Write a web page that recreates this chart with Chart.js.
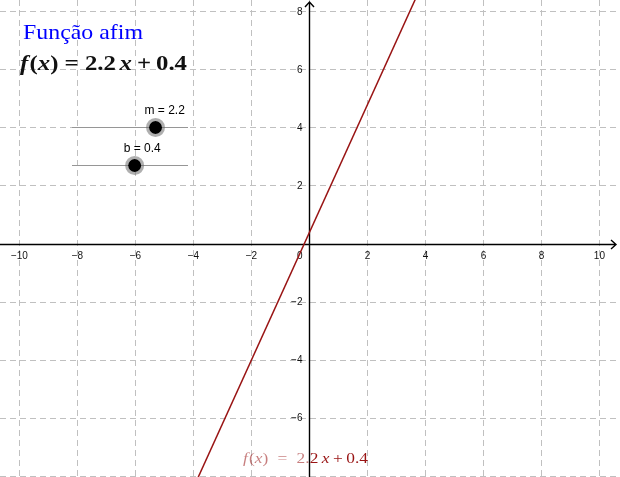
<!DOCTYPE html>
<html>
<head>
<meta charset="utf-8">
<script src="https://cdn.jsdelivr.net/npm/chart.js@4"></script>
<style>
  html, body { margin: 0; padding: 0; background: #fff; }
  #wrap { width: 620px; height: 477px; }
</style>
</head>
<body>
<div id="wrap"><canvas id="graph" width="620" height="477"></canvas></div>
<script>
// f(x) = m x + b  (slider values)
const m = 2.2;
const b = 0.4;
const sliderMin = -5;
const sliderMax = 5;

// two points of the line
const lineX = [-4, 4];
const lineY = [-8.4, 9.2];

// grid lines and axis labels
const xGrid = [-10, -8, -6, -4, -2, 0, 2, 4, 6, 8, 10];
const yGrid = [-8, -6, -4, -2, 0, 2, 4, 6, 8];
const xTicks = [-10, -8, -6, -4, -2, 2, 4, 6, 8, 10];
const yTicks = [-6, -4, -2, 2, 4, 6, 8];

// visible window
const xMin = -10.67, xMax = 10.71;
const yMin = -8.03, yMax = 8.41;

const lineColor = 'rgb(153, 20, 20)';
const gridColor = 'rgb(192, 192, 192)';
const serif = '"Liberation Serif", "Times New Roman", serif';
const sans = '"Liberation Sans", Arial, sans-serif';

const fmt = v => (v < 0 ? '\u2212' + (-v) : '' + v);

// draws text runs one after another, squeezed to a given width
drawRuns = (ctx, x, y, runs, width) => {
    let total = 0;
    runs.forEach(r => { ctx.font = r[1]; total += ctx.measureText(r[0]).width + (r[3] || 0); });
    ctx.save();
    ctx.translate(x, y);
    ctx.scale(width / total, 1);
    ctx.textBaseline = 'alphabetic';
    ctx.textAlign = 'left';
    let cx = 0;
    runs.forEach(r => {
        ctx.font = r[1];
        ctx.fillStyle = r[2];
        ctx.fillText(r[0], cx, 0);
        cx += ctx.measureText(r[0]).width + (r[3] || 0);
    });
    ctx.restore();
};

const axesPlugin = {
    id: 'ggbAxes',
    beforeDatasetsDraw(chart) {
        const { ctx, chartArea: a, scales: { x, y } } = chart;
        const x0 = Math.round(x.getPixelForValue(0)) + 0.5;
        const y0 = Math.round(y.getPixelForValue(0)) + 0.5;
        ctx.save();
        ctx.strokeStyle = '#000';
        ctx.lineWidth = 1.4;
        ctx.beginPath();
        ctx.moveTo(a.left, y0); ctx.lineTo(a.right - 4, y0);
        ctx.moveTo(a.right - 9, y0 - 4.5); ctx.lineTo(a.right - 4, y0); ctx.lineTo(a.right - 9, y0 + 4.5);
        ctx.moveTo(x0, a.bottom); ctx.lineTo(x0, a.top + 2);
        ctx.moveTo(x0 - 4.5, a.top + 7); ctx.lineTo(x0, a.top + 2); ctx.lineTo(x0 + 4.5, a.top + 7);
        ctx.stroke();

        ctx.fillStyle = '#111';
        ctx.font = '10px ' + sans;
        ctx.textBaseline = 'alphabetic';
        ctx.textAlign = 'center';
        xTicks.forEach(v => ctx.fillText(fmt(v), x.getPixelForValue(v), y0 + 14.5));
        ctx.textAlign = 'right';
        ctx.textBaseline = 'middle';
        yTicks.forEach(v => ctx.fillText(fmt(v), x0 - 7, y.getPixelForValue(v)));
        ctx.textBaseline = 'alphabetic';
        ctx.fillText('0', x0 - 7, y0 + 14.5);
        ctx.restore();
    },
    afterDraw(chart) {
        const { ctx, scales: { x } } = chart;
        const x0 = x.getPixelForValue(0);

        // title and formula
        drawRuns(ctx, 23, 39, [['Função afim', '22px ' + serif, '#0000ff']], 120);
        const bi = 'italic bold 20px ' + serif, bo = 'bold 20px ' + serif, k = '#111';
        drawRuns(ctx, 20, 70, [
            ['f', bi, k, 1], ['(', bo, k], ['x', bi, k], [')', bo, k, 5], ['=', bo, k, 5],
            ['2.2', bo, k, 3], ['x', bi, k, 4], ['+', bo, k, 4], ['0.4', bo, k]
        ], 167);

        // label of the function, paler left of the y axis
        const it = 'italic 15px ' + serif, up = '15px ' + serif;
        const label = c => [
            ['f', it, c, 1], ['(', up, c], ['x', it, c], [')', up, c, 8], ['=', up, c, 8],
            ['2.2', up, c, 3], ['x', it, c, 3], ['+', up, c, 3], ['0.4', up, c]
        ];
        ctx.save();
        ctx.beginPath(); ctx.rect(0, 0, x0, chart.height); ctx.clip();
        drawRuns(ctx, 243, 463, label('rgba(153, 20, 20, 0.55)'), 125);
        ctx.restore();
        ctx.save();
        ctx.beginPath(); ctx.rect(x0, 0, chart.width - x0, chart.height); ctx.clip();
        drawRuns(ctx, 243, 463, label(lineColor), 125);
        ctx.restore();

        // sliders
        const sliders = [['m', m, 127.5], ['b', b, 165.5]];
        const sl = 72, len = 116;
        sliders.forEach(s => {
            const kx = sl + (s[1] - sliderMin) / (sliderMax - sliderMin) * len;
            ctx.save();
            ctx.strokeStyle = 'rgb(150, 150, 150)';
            ctx.lineWidth = 1;
            ctx.beginPath(); ctx.moveTo(sl, s[2]); ctx.lineTo(sl + len, s[2]); ctx.stroke();
            ctx.beginPath(); ctx.arc(kx, s[2], 8, 0, Math.PI * 2);
            ctx.strokeStyle = 'rgba(110, 110, 110, 0.55)';
            ctx.lineWidth = 3; ctx.stroke();
            ctx.beginPath(); ctx.arc(kx, s[2], 6.5, 0, Math.PI * 2);
            ctx.fillStyle = '#000'; ctx.fill();
            ctx.font = '12px ' + sans;
            ctx.fillStyle = '#000';
            ctx.textAlign = 'left';
            ctx.fillText(s[0] + ' = ' + s[1], kx - 11, s[2] - 14);
            ctx.restore();
        });
    }
};

new Chart(document.getElementById('graph').getContext('2d'), {
    type: 'scatter',
    data: {
        datasets: [{
            data: lineX.map((v, i) => ({ x: v, y: lineY[i] })),
            showLine: true,
            borderColor: lineColor,
            borderWidth: 1.5,
            pointRadius: 0,
            pointHoverRadius: 0
        }]
    },
    options: {
        responsive: false,
        animation: false,
        events: [],
        layout: { padding: 0 },
        plugins: { legend: { display: false }, tooltip: { enabled: false } },
        scales: {
            x: {
                type: 'linear', min: xMin, max: xMax,
                ticks: { display: false },
                afterBuildTicks: s => { s.ticks = xGrid.map(v => ({ value: v })); },
                border: { display: false, dash: [6, 4] },
                grid: { color: gridColor, lineWidth: 1, drawTicks: false }
            },
            y: {
                type: 'linear', min: yMin, max: yMax,
                ticks: { display: false },
                afterBuildTicks: s => { s.ticks = yGrid.map(v => ({ value: v })); },
                border: { display: false, dash: [6, 4] },
                grid: { color: gridColor, lineWidth: 1, drawTicks: false }
            }
        }
    },
    plugins: [axesPlugin]
});
</script>
</body>
</html>
